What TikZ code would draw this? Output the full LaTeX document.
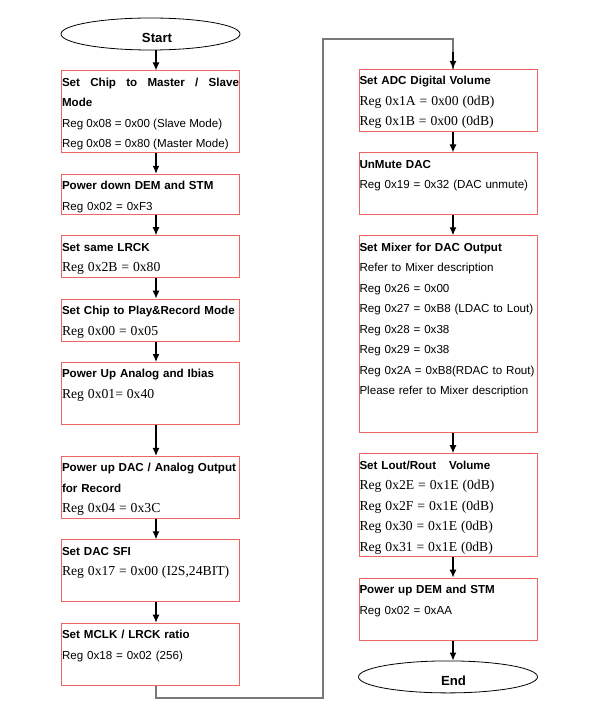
\documentclass[tikz,border=0pt]{standalone}
\usepackage{fontspec}
\setmainfont{Liberation Sans}
\newfontfamily\timesfont{Liberation Serif}[Scale=1.18]
\usetikzlibrary{positioning,shapes.geometric,arrows.meta}
\definecolor{boxred}{RGB}{240,100,100}
\definecolor{linkgray}{RGB}{120,120,120}
\hyphenpenalty=10000
\tikzset{
	stepbox/.style={draw=boxred, line width=0.9pt, rectangle, text width=177pt, inner xsep=0.5pt, inner ysep=0pt,
		align=left, text height=15.5pt, text depth=#1, font=\fontsize{11.6}{20.5}\selectfont},
	terminal/.style={draw, ellipse, line width=0.8pt, minimum width=179pt, minimum height=32pt, inner sep=0pt,
		text height=20pt, text depth=2.6pt, font=\fontsize{13.2}{15}\selectfont\bfseries},
	flow/.style={line width=1.2pt, -{Latex[length=8pt,width=7pt]}},
	link/.style={draw=linkgray, line width=1.3pt}
}

\begin{document}
\begin{tikzpicture}[node distance=20.5pt]
	\useasboundingbox (0,0) rectangle (600pt,-727pt);
	
	% left column
	\node[terminal] (start) at (150.5pt,-34pt) {\hspace*{13pt}Start};
	\node[stepbox=66.5pt, align=justify, below=20pt of start] (b1) {\textbf{Set Chip to Master / Slave\linebreak Mode}\\Reg 0x08 = 0x00 (Slave Mode)\\Reg 0x08 = 0x80 (Master Mode)};
	\node[stepbox=24.5pt, below=of b1] (b2) {\textbf{Power down DEM and STM}\\Reg 0x02 = 0xF3};
	\node[stepbox=26.5pt, below=of b2] (b3) {\textbf{Set same LRCK}\\{\timesfont Reg 0x2B = 0x80}};
	\node[stepbox=26.5pt, below=of b3] (b4) {\textbf{Set Chip to Play\&Record Mode}\\{\timesfont Reg 0x00 = 0x05}};
	\node[stepbox=46.5pt, below=of b4] (b5) {\textbf{Power Up Analog and Ibias}\\{\timesfont Reg 0x01= 0x40}};
	\node[stepbox=46.5pt, below=31pt of b5] (b6) {\textbf{Power up DAC / Analog Output}\\\textbf{for Record}\\{\timesfont Reg 0x04 = 0x3C}};
	\node[stepbox=46.5pt, below=of b6] (b7) {\textbf{Set DAC SFI}\\{\timesfont Reg 0x17 = 0x00 (I2S,24BIT)}};
	\node[stepbox=46.5pt, below=of b7] (b8) {\textbf{Set MCLK / LRCK ratio}\\Reg 0x18 = 0x02 (256)};
	
	% right column
	\node[stepbox=46.5pt, anchor=north] (b9) at (448pt,-69pt) {\textbf{Set ADC Digital Volume}\\{\timesfont Reg 0x1A = 0x00 (0dB)}\\{\timesfont Reg 0x1B = 0x00 (0dB)}};
	\node[stepbox=46.5pt, below=of b9] (b10) {\textbf{UnMute DAC}\\Reg 0x19 = 0x32 (DAC unmute)};
	\node[stepbox=181.5pt, below=20pt of b10] (b11) {\textbf{Set Mixer for DAC Output}\\Refer to Mixer description\\Reg 0x26 = 0x00\\Reg 0x27 = 0xB8 (LDAC to Lout)\\Reg 0x28 = 0x38\\Reg 0x29 = 0x38\\Reg 0x2A = 0xB8(RDAC to Rout)\\Please refer to Mixer description};
	\node[stepbox=87.5pt, below=20pt of b11] (b12) {\textbf{Set Lout/Rout\hspace{13pt}Volume}\\{\timesfont Reg 0x2E = 0x1E (0dB)}\\{\timesfont Reg 0x2F = 0x1E (0dB)}\\{\timesfont Reg 0x30 = 0x1E (0dB)}\\{\timesfont Reg 0x31 = 0x1E (0dB)}};
	\node[stepbox=46.5pt, below=of b12] (b13) {\textbf{Power up DEM and STM}\\Reg 0x02 = 0xAA};
	\node[terminal, below=20pt of b13] (end) {\hspace*{11pt}End};
	
	\coordinate (low) at (323pt,-698pt);
	\coordinate (high) at (323pt,-39pt);
	
	\foreach \a/\b in {start/b1,b1/b2,b2/b3,b3/b4,b4/b5,b5/b6,b6/b7,b7/b8}
		\draw[flow] ([xshift=5.5pt]\a.south) -- ([xshift=5.5pt]\b.north);
	\foreach \a/\b in {b9/b10,b10/b11,b11/b12,b12/b13,b13/end}
		\draw[flow] ([xshift=5pt]\a.south) -- ([xshift=5pt]\b.north);
	
	\draw[link] ([xshift=5.5pt]b8.south) |- (low) -- (high) -| ([xshift=5pt]b9.north);
	\draw[flow] ([xshift=5pt,yshift=17pt]b9.north) -- ([xshift=5pt]b9.north);
\end{tikzpicture}
\end{document}
